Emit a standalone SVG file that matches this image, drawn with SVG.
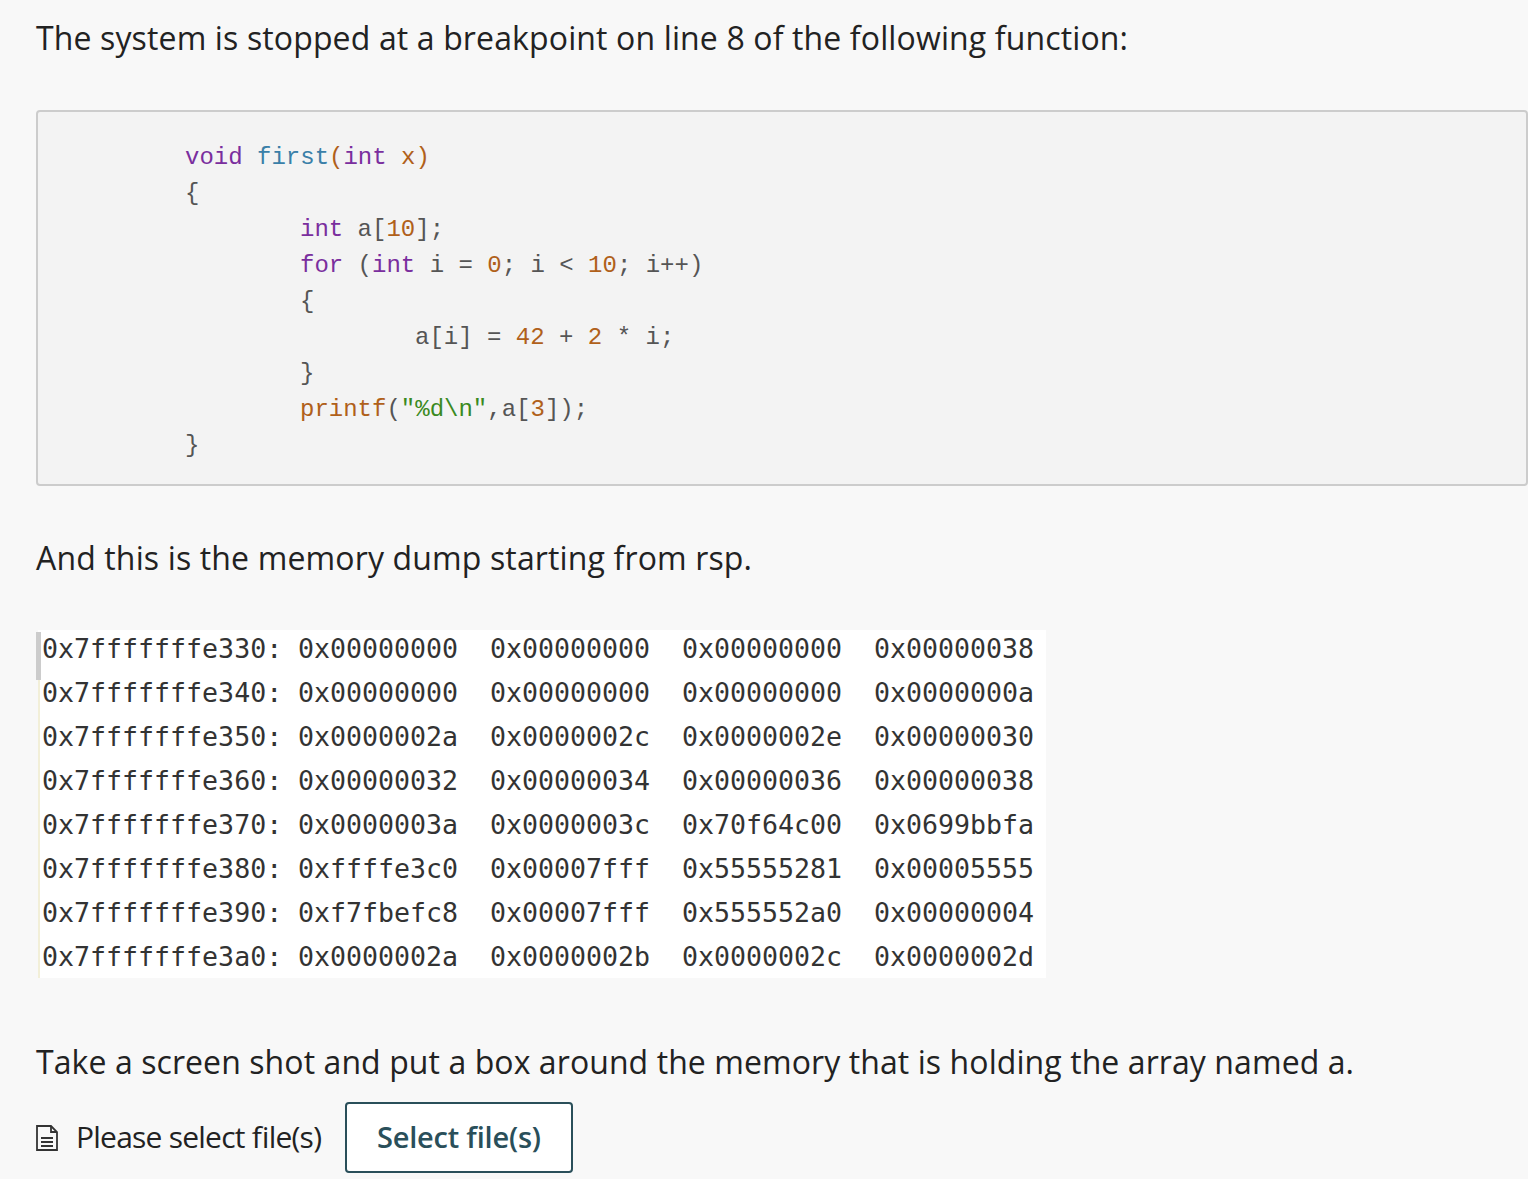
<svg xmlns="http://www.w3.org/2000/svg" width="1528" height="1179" viewBox="0 0 1528 1179">
<style>
.t{font-family:"Open Sans","Noto Sans",sans-serif;font-size:32px;fill:#222}
.c{font-family:"Liberation Mono",monospace;font-size:24px;fill:#555;white-space:pre}
.k{fill:#7a2e9e}.f{fill:#3a7fa8}.o{fill:#b0601a}.s{fill:#3a8a1e}
.m{font-family:"DejaVu Sans Mono",monospace;font-size:26.6px;fill:#333}
</style>
<rect width="1528" height="1179" fill="#f8f8f8"/>
<text class="t" x="36" y="50" textLength="1092">The system is stopped at a breakpoint on line 8 of the following function:</text>
<rect x="37" y="111" width="1490" height="374" rx="3" fill="#f3f3f3" stroke="#ccc" stroke-width="2"/>
<g class="c" xml:space="preserve">
<text x="185" y="164"><tspan class="k">void</tspan> <tspan class="f">first</tspan><tspan class="o">(</tspan><tspan class="k">int</tspan> <tspan class="o">x)</tspan></text>
<text x="185" y="200">{</text>
<text x="300" y="236"><tspan class="k">int</tspan> a[<tspan class="o">10</tspan>];</text>
<text x="300" y="272"><tspan class="k">for</tspan> (<tspan class="k">int</tspan> i = <tspan class="o">0</tspan>; i &lt; <tspan class="o">10</tspan>; i++)</text>
<text x="300" y="308">{</text>
<text x="415" y="344">a[i] = <tspan class="o">42</tspan> + <tspan class="o">2</tspan> * i;</text>
<text x="300" y="380">}</text>
<text x="300" y="416"><tspan class="o">printf</tspan>(<tspan class="s">"%d\n"</tspan>,a[<tspan class="o">3</tspan>]);</text>
<text x="185" y="452">}</text>
</g>
<text class="t" x="36" y="570" textLength="716">And this is the memory dump starting from rsp.</text>
<rect x="38" y="630" width="1008" height="348" fill="#fff"/>
<rect x="36" y="632" width="5" height="48" fill="#ccc"/>
<rect x="38" y="680" width="2" height="298" fill="#f2efd8"/>
<g class="m">
<text y="658"><tspan x="42">0x7fffffffe330:</tspan><tspan x="298">0x00000000</tspan><tspan x="490">0x00000000</tspan><tspan x="682">0x00000000</tspan><tspan x="874">0x00000038</tspan></text>
<text y="702"><tspan x="42">0x7fffffffe340:</tspan><tspan x="298">0x00000000</tspan><tspan x="490">0x00000000</tspan><tspan x="682">0x00000000</tspan><tspan x="874">0x0000000a</tspan></text>
<text y="746"><tspan x="42">0x7fffffffe350:</tspan><tspan x="298">0x0000002a</tspan><tspan x="490">0x0000002c</tspan><tspan x="682">0x0000002e</tspan><tspan x="874">0x00000030</tspan></text>
<text y="790"><tspan x="42">0x7fffffffe360:</tspan><tspan x="298">0x00000032</tspan><tspan x="490">0x00000034</tspan><tspan x="682">0x00000036</tspan><tspan x="874">0x00000038</tspan></text>
<text y="834"><tspan x="42">0x7fffffffe370:</tspan><tspan x="298">0x0000003a</tspan><tspan x="490">0x0000003c</tspan><tspan x="682">0x70f64c00</tspan><tspan x="874">0x0699bbfa</tspan></text>
<text y="878"><tspan x="42">0x7fffffffe380:</tspan><tspan x="298">0xffffe3c0</tspan><tspan x="490">0x00007fff</tspan><tspan x="682">0x55555281</tspan><tspan x="874">0x00005555</tspan></text>
<text y="922"><tspan x="42">0x7fffffffe390:</tspan><tspan x="298">0xf7fbefc8</tspan><tspan x="490">0x00007fff</tspan><tspan x="682">0x555552a0</tspan><tspan x="874">0x00000004</tspan></text>
<text y="966"><tspan x="42">0x7fffffffe3a0:</tspan><tspan x="298">0x0000002a</tspan><tspan x="490">0x0000002b</tspan><tspan x="682">0x0000002c</tspan><tspan x="874">0x0000002d</tspan></text>
</g>
<text class="t" x="36" y="1074" textLength="1318">Take a screen shot and put a box around the memory that is holding the array named a.</text>
<g fill="none" stroke="#333" stroke-width="1.8">
<path d="M37 1126h14l6 6v18h-20z"/><path d="M51 1126v6h6"/>
<path d="M41 1138h12M41 1142h12M41 1146h12"/>
</g>
<text class="t" x="76" y="1148" textLength="246" style="font-size:30px">Please select file(s)</text>
<rect x="346" y="1103" width="226" height="69" rx="3" fill="#fff" stroke="#2a4f5a" stroke-width="2"/>
<text class="t" x="459" y="1148" text-anchor="middle" textLength="164" style="font-size:29px;font-weight:600;fill:#2a4f5a">Select file(s)</text>
</svg>
